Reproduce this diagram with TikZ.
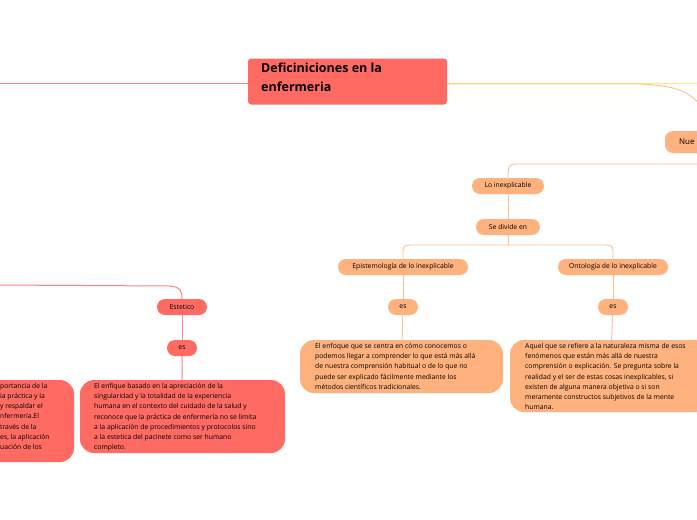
\documentclass[tikz,border=0pt]{standalone}
\usepackage{fontspec}
\setmainfont{Open Sans}
\begin{document}
\begin{tikzpicture}[x=1pt,y=-1pt,
  red/.style={fill=redf,draw=none,rounded corners=8pt,font=\fontsize{6.8}{10}\selectfont,inner sep=0pt},
  org/.style={fill=orgf,draw=none,rounded corners=8pt,font=\fontsize{6.8}{10}\selectfont,inner sep=0pt},
  rl/.style={draw=redl,line width=1pt},
  ol/.style={draw=orgl,line width=0.9pt},
  txt/.style={align=left,font=\fontsize{6.8}{10.2}\selectfont,anchor=north west,inner sep=0pt}]
\definecolor{redf}{RGB}{255,107,99}
\definecolor{redl}{RGB}{255,130,125}
\definecolor{orgf}{RGB}{255,178,125}
\definecolor{orgl}{RGB}{255,190,145}
\definecolor{yel}{RGB}{255,235,120}
\useasboundingbox (0,0) rectangle (697,520);
\clip (0,0) rectangle (697,520);
% lines
\coordinate (rl0) at (-5,83);
\coordinate (yl1) at (705,83);
\coordinate (rl2) at (-5,285);
\coordinate (nr) at (705,164);
\node[red,minimum width=199,minimum height=46,rounded corners=3pt] (title) at (347.5,81.5) {};
\node[txt,font=\fontsize{12.5}{19}\selectfont\bfseries] (tt) at (261,63) {Deficiniciones en la\\enfermeria};
\draw[rl] (rl0) -- (248,83);
\draw[yel,line width=1pt] (447,83) -- (yl1);
\draw[ol] (447,84) -- (640,84) .. controls (680,86) and (690,92) .. (705,110);
\node[org,minimum width=70,minimum height=22] (nue) at (700,142) {};
\node[anchor=west,font=\fontsize{8}{10}\selectfont,inner sep=0pt] at (679,142) {Nue};
% orange tree
\node[org,minimum width=72,minimum height=16] (lo) at (508,186) {Lo inexplicable};
\node[org,minimum width=64,minimum height=16] (sd) at (508,227) {Se divide en};
\node[org,minimum width=130,minimum height=16] (ep) at (403,267) {Epistemología de lo inexplicable};
\node[org,minimum width=110,minimum height=16] (on) at (613,267) {Ontología de lo inexplicable};
\node[org,minimum width=30,minimum height=16] (es1) at (403,307) {es};
\node[org,minimum width=30,minimum height=16] (es2) at (613,307) {es};
\node[org,minimum width=203,minimum height=53,rounded corners=14pt] (b1) at (401.5,366.5) {};
\node[txt] at (315,343) {El enfoque que se centra en cómo conocemos o\\podemos llegar a comprender lo que está más allá\\de nuestra comprensión habitual o de lo que no\\puede ser explicado fácilmente mediante los\\métodos científicos tradicionales.};
\node[org,minimum width=200,minimum height=72,rounded corners=14pt] (b2) at (610,376) {};
\node[txt] at (525,343) {Aquel que se refiere a la naturaleza misma de esos\\fenómenos que están más allá de nuestra\\comprensión o explicación. Se pregunta sobre la\\realidad y el ser de estas cosas inexplicables, si\\existen de alguna manera objetiva o si son\\meramente constructos subjetivos de la mente\\humana.};
\draw[ol] (nr) -- (516,164) .. controls (509,164) and (508,166) .. (lo.north);
\draw[ol] (lo) -- (sd);
\draw[ol] (sd.south) -- (508,245);
\draw[ol] (ep.north) -- (403,251) .. controls (403,246) and (405,245) .. (412,245) -- (604,245) .. controls (611,245) and (613,246) .. (613,251) -- (on.north);
\draw[ol] (ep) -- (es1); \draw[ol] (es1) -- (b1);
\draw[ol] (on) -- (es2); \draw[ol] (es2) -- (b2);
% red tree
\node[red,minimum width=50,minimum height=16] (est) at (182,307) {Estetico};
\node[red,minimum width=30,minimum height=16] (es3) at (182,348) {es};
\node[red,minimum width=205,minimum height=73,rounded corners=14pt] (b3) at (182.5,416.5) {};
\node[txt] at (94,383) {El enfique basado en la apreciación de la\\singularidad y la totalidad de la experiencia\\humana en el contexto del cuidado de la salud y\\reconoce que la práctica de enfermería no se limita\\a la aplicación de procedimientos y protocolos sino\\a la estetica del pacinete como ser humano\\completo.};
\node[red,minimum width=100,minimum height=82,rounded corners=14pt] (b4) at (24,421) {};
\node[txt] at (0,383) {portancia de la\\ia práctica y la\\ y respaldar el\\nfermería.El\\ través de la\\es, la aplicación\\uación de los};
\draw[rl] (rl2) -- (170,286) .. controls (180,287) and (182,290) .. (est.north);
\draw[rl] (est) -- (es3); \draw[rl] (es3) -- (b3);
\end{tikzpicture}
\end{document}
